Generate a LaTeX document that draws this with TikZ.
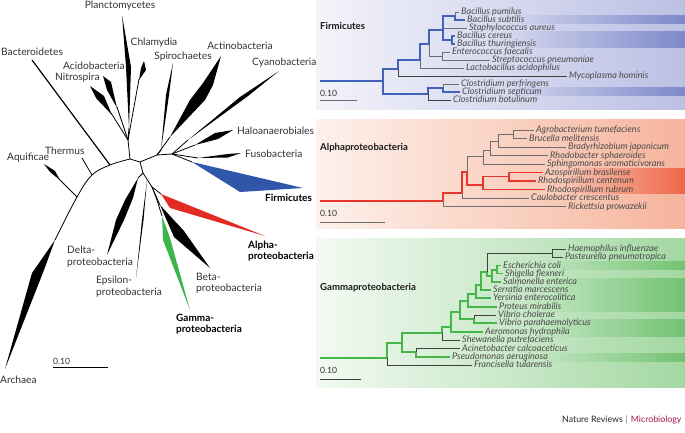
\documentclass[tikz,border=0pt]{standalone}
\usepackage{fontspec}
\setmainfont{Lato}
\definecolor{fbL}{HTML}{F3F3FA}\definecolor{fbR}{HTML}{BCC0E4}\definecolor{fbS}{HTML}{7D89C9}\definecolor{fbLine}{HTML}{4062B8}
\definecolor{alL}{HTML}{FDF1EB}\definecolor{alR}{HTML}{F6B49C}\definecolor{alS}{HTML}{EE6648}\definecolor{alLine}{HTML}{E8362C}
\definecolor{gaL}{HTML}{F3FAF2}\definecolor{gaR}{HTML}{A3D8A2}\definecolor{gaS}{HTML}{72C272}\definecolor{gaLine}{HTML}{45B649}
\definecolor{grLine}{HTML}{6E6E6E}
\definecolor{wBlue}{HTML}{2F56A9}\definecolor{wRed}{HTML}{E42A24}\definecolor{wGreen}{HTML}{3DB54A}
\definecolor{txt}{HTML}{333333}\definecolor{sp}{HTML}{4A4A4A}\definecolor{mb}{HTML}{A3174F}
\newcommand\spleaf[3]{\coordinate (#1) at (#2); \node[spl, anchor=mid west] (#1-t) at ([xshift=2pt]#1) {#3};}
\begin{document}
\begin{tikzpicture}[x=1pt,y=-1pt,
  lab/.style={text=txt, font=\fontsize{10.2}{11.3}\selectfont, inner sep=0pt},
  blab/.style={text=black, font=\fontsize{10}{11.3}\selectfont\bfseries, inner sep=0pt},
  spl/.style={text=sp, font=\fontsize{9.1}{9.5}\selectfont\itshape, inner sep=0pt},
  ttl/.style={font=\fontsize{9.6}{10}\selectfont\bfseries, text=black!90, inner sep=0pt},
  scl/.style={font=\fontsize{8.6}{9}\selectfont, text=txt, inner sep=0pt},
  tl/.style={line width=0.8pt, black},
  bl/.style={line width=1.1pt, fbLine},
  rl/.style={line width=1.1pt, alLine},
  gnl/.style={line width=1.1pt, gaLine},
  gl/.style={line width=0.8pt, grLine},
  dl/.style={line width=0.8pt, black!75}]
\useasboundingbox (0,0) rectangle (685,433);
\fill[white] (0,0) rectangle (685,433);

% ================= LEFT TREE =================
\coordinate (arT) at (55,240); \coordinate (aqN) at (77,197); \coordinate (thN) at (92,175);
\coordinate (baN) at (110,165); \coordinate (plN) at (130,159); \coordinate (cN) at (140,162);
\coordinate (rN1) at (157,155); \coordinate (rN2) at (172,154); \coordinate (clN) at (128,140);
\coordinate (pN1) at (143,173); \coordinate (pN2) at (152,187);
\draw[tl] plot[smooth, tension=0.6] coordinates {(55,240) (77,197) (92,175) (110,165) (130,159)};
\draw[tl] (plN) -- (cN) -- (rN1) -- (rN2);
\draw[tl] (plN) -- (clN);
\draw[tl] (cN) -- (pN1) -- (pN2);
% Archaea
\fill (arT) -- (44,270) -- (5,369) -- (32,273) -- cycle;
% Aquificae
\draw[tl] (aqN) -- (50,170);
\fill (44,164) -- (55,171) -- (60,180) -- (50,172) -- cycle;
% Thermus
\draw[tl] (thN) -- (82,158);
% Bacteroidetes
\draw[line width=1.2pt] (baN) -- (32,60);
% cluster: Planctomycetes, Chlamydia, Acidobacteria, Nitrospira
\draw[tl] (clN) -- (129,128);
\fill (122,15) -- (131,67) -- (129,128) -- (126,67) -- cycle;
\draw[tl] (clN) -- (139,79);
\fill (144,61) -- (146,70) -- (139,80) -- (141,68) -- cycle;
\draw[tl] (clN) -- (117,107);
\fill (103,76) -- (111,82) -- (117,108) -- (107,90) -- cycle;
\draw[tl] (clN) -- (111,113);
\fill (90,86) -- (104,96) -- (112,115) -- (96,98) -- cycle;
% right cluster
\draw[tl] (rN1) -- (161,150);
\fill (173,63) -- (169,95) -- (161,150) -- (166,95) -- cycle;
\draw[tl] (rN1) -- (170,137);
\fill (221,56) -- (213,85) -- (205,100) -- (170,137) -- (190,100) -- (203,83) -- cycle;
\draw[tl] (rN2) -- (188,140);
\fill (279,71) -- (248,96) -- (188,140) -- (240,97) -- cycle;
\draw[tl] (rN2) -- (195,145);
\fill (233,130) -- (218,139) -- (195,145) -- (215,133) -- cycle;
\draw[tl] (rN2) -- (198,158);
\fill (241,153) -- (228,157.5) -- (198,158) -- (228,154) -- cycle;
\draw[tl] (rN2) -- (192,162);
\fill[wBlue] (192,162) -- (303,188) -- (240,192) -- cycle;
% proteobacteria
\draw[tl] (pN1) -- (138,178);
\fill (138,178) -- (133,198) -- (124,220) -- (107,255) -- (116,220) -- (125,200) -- cycle;
\fill (147,180) -- (143.5,220) -- (136,278) -- (142,220) -- cycle;
\draw[tl] (pN2) -- (161,194);
\fill[wRed] (161,194) -- (265,236) -- (187,213) -- (170,208) -- cycle;
\draw[tl] (pN2) -- (160,205);
\fill (160,205) -- (184,231) -- (210,268) -- (174,237) -- cycle;
\draw[tl] (pN2) -- (157,200) -- (162,216);
\fill[wGreen] (162,216) -- (170,238) -- (190,310) -- (163,240) -- cycle;
% labels
\node[lab, anchor=mid] (lPla) at (120,6) {Planctomycetes};
\node[lab, anchor=mid] (lChl) at (154,43) {Chlamydia};
\node[lab, anchor=mid] (lAct) at (240,47) {Actinobacteria};
\node[lab, anchor=mid] (lSpi) at (183,57) {Spirochaetes};
\node[lab, anchor=mid west] (lCya) at (252,63) {Cyanobacteria};
\node[lab, anchor=mid west] (lBac) at (1,53) {Bacteroidetes};
\node[lab, anchor=mid west] (lAci) at (63,67) {Acidobacteria};
\node[lab, anchor=mid west] (lNit) at (55,78) {Nitrospira};
\node[lab, anchor=mid west] (lHal) at (237,132) {Haloanaerobiales};
\node[lab, anchor=mid west] (lFus) at (245,155) {Fusobacteria};
\node[blab, anchor=mid west] (lFir) at (265,199) {Firmicutes};
\node[lab, anchor=mid west] (lThe) at (45,152) {Thermus};
\node[lab, anchor=mid west] (lAqu) at (7,158) {Aquificae};
\node[lab, anchor=north west, align=left] (lDel) at (67,246) {Delta-\\proteobacteria};
\node[lab, anchor=north west, align=left] (lEps) at (96,276) {Epsilon-\\proteobacteria};
\node[lab, anchor=north west, align=left] (lBet) at (196,273) {Beta-\\proteobacteria};
\node[blab, anchor=north west, align=left] (lGam) at (176,314) {Gamma-\\proteobacteria};
\node[blab, anchor=north west, align=left] (lAlp) at (248,241) {Alpha-\\proteobacteria};
\node[lab, anchor=mid west] (lArc) at (0,381) {Archaea};
\node[scl, anchor=mid west] (lSc) at (53,362) {0.10};
\coordinate (lSc1) at (53,367); \coordinate (lSc2) at (108,367);
\draw[line width=0.8pt] (lSc1) -- (lSc2);

% ================= FIRMICUTES =================
\shade[left color=fbL, right color=fbR] (316,0) rectangle (685,110);
\shade[left color=fbR!51!fbL, right color=fbS] (505,15.5) rectangle (685,23.5);
\shade[left color=fbR!51!fbL, right color=fbS] (505,31.5) rectangle (685,47.5);
\shade[left color=fbR!51!fbL, right color=fbS] (505,87.5) rectangle (685,95.5);
\coordinate (fR) at (320,81); \coordinate (fN0) at (383,81); \coordinate (fA) at (398,69);
\coordinate (fC) at (428,94); \coordinate (fB) at (420,60); \coordinate (fD) at (429,44);
\coordinate (fE) at (443,30); \coordinate (fG) at (455,16); \coordinate (fH) at (452,40);
\coordinate (fF) at (442,56); \coordinate (fP) at (443,88);
\spleaf{pum}{459,12}{Bacillus pumilus}
\spleaf{sub}{465,20}{Bacillus subtilis}
\spleaf{sta}{467,28}{Staphylococcus aureus}
\spleaf{cer}{455,36}{Bacillus cereus}
\spleaf{thu}{455,44}{Bacillus thuringiensis}
\spleaf{ent}{450,52}{Enterococcus faecalis}
\spleaf{str}{490,60}{Streptococcus pneumoniae}
\spleaf{lac}{464,68}{Lactobacillus acidophilus}
\spleaf{myc}{567,76}{Mycoplasma hominis}
\spleaf{per}{459,84}{Clostridium perfringens}
\spleaf{sep}{460,92}{Clostridium septicum}
\spleaf{bot}{451,100}{Clostridium botulinum}
\draw[dl] (fA) |- (myc);
\draw[gl] (fB) |- (lac);
\draw[gl] (fD) |- (fF); \draw[gl] (fF) |- (ent); \draw[gl] (fF) |- (str);
\draw[gl] (fE) |- (sta);
\draw[gl] (fG) |- (pum);
\draw[dl] (fC) |- (bot);
\draw[gl] (fP) |- (per);
\draw[bl] (fR) -- (fN0);
\draw[bl] (fN0) |- (fA); \draw[bl] (fN0) |- (fC);
\draw[bl] (fA) |- (fB); \draw[bl] (fB) |- (fD); \draw[bl] (fD) |- (fE);
\draw[bl] (fE) |- (fG); \draw[bl] (fG) |- (sub);
\draw[bl] (fE) |- (fH); \draw[bl] (fH) |- (cer); \draw[bl] (fH) |- (thu);
\draw[bl] (fC) |- (fP); \draw[bl] (fP) |- (sep);
\node[ttl, anchor=mid west] (fT) at (320,27) {Firmicutes};
\node[scl, anchor=mid west] (fS) at (320,94) {0.10};
\coordinate (fS1) at (320,100); \coordinate (fS2) at (357,100);
\draw[gl] (fS1) -- (fS2);

% ================= ALPHA =================
\shade[left color=alL, right color=alR] (316,120) rectangle (685,228);
\shade[left color=alR!66!alL, right color=alS] (560,168) rectangle (685,193.5);
\coordinate (aR) at (320,201); \coordinate (aN) at (443,201); \coordinate (aU) at (462,193);
\coordinate (aV) at (467,172); \coordinate (aX) at (483,185); \coordinate (aY) at (509,176.75);
\coordinate (aW) at (483,156); \coordinate (aZ) at (490,150); \coordinate (aQ) at (498,141);
\coordinate (aT) at (513,134);
\spleaf{agr}{534,130}{Agrobacterium tumefaciens}
\spleaf{bru}{527,138.5}{Brucella melitensis}
\spleaf{bra}{566,147}{Bradyrhizobium japonicum}
\spleaf{rhb}{548,155.5}{Rhodobacter sphaeroides}
\spleaf{sph}{545,164}{Sphingomonas aromaticivorans}
\spleaf{azo}{543,172.5}{Azospirillum brasilense}
\spleaf{cen}{536,181}{Rhodospirillum centenum}
\spleaf{rub}{545,189.5}{Rhodospirillum rubrum}
\spleaf{cau}{529,198}{Caulobacter crescentus}
\spleaf{ric}{566,206.5}{Rickettsia prowazekii}
\draw[gl] (aN) |- (ric); \draw[gl] (aU) |- (cau);
\draw[gl] (aV) |- (aW); \draw[gl] (aW) |- (aZ); \draw[gl] (aW) |- (sph);
\draw[gl] (aZ) |- (aQ); \draw[gl] (aZ) |- (rhb);
\draw[gl] (aQ) |- (aT); \draw[gl] (aQ) |- (bra);
\draw[gl] (aT) |- (agr); \draw[gl] (aT) |- (bru);
\draw[rl] (aR) -- (aN); \draw[rl] (aN) |- (aU); \draw[rl] (aU) |- (aV);
\draw[rl] (aV) |- (aX); \draw[rl] (aX) |- (aY); \draw[rl] (aY) |- (azo);
\draw[rl] (aY) |- (cen); \draw[rl] (aX) |- (rub);
\node[ttl, anchor=mid west] (aTt) at (320,148) {Alphaproteobacteria};
\node[scl, anchor=mid west] (aS) at (320,214) {0.10};
\coordinate (aS1) at (320,222); \coordinate (aS2) at (385,222);
\draw[gl] (aS1) -- (aS2);

% ================= GAMMA =================
\shade[left color=gaL, right color=gaR] (316,238) rectangle (685,387);
\shade[left color=gaR!61!gaL, right color=gaS] (540,261.5) rectangle (685,269.5);
\shade[left color=gaR!61!gaL, right color=gaS] (540,278) rectangle (685,311);
\shade[left color=gaR!61!gaL, right color=gaS] (540,319) rectangle (685,336);
\shade[left color=gaR!61!gaL, right color=gaS] (540,353) rectangle (685,361);
\coordinate (gR) at (320,358); \coordinate (g0) at (387,358); \coordinate (g1) at (402,343);
\coordinate (g3) at (416,352); \coordinate (g2) at (442,333); \coordinate (g4) at (451,327);
\coordinate (g5) at (460,312); \coordinate (g7) at (474,319); \coordinate (g6) at (468,301);
\coordinate (g8) at (476,294); \coordinate (g9) at (481,285); \coordinate (g10) at (487,272);
\coordinate (g12) at (492,276); \coordinate (g13) at (497,270); \coordinate (g11) at (552,253);
\spleaf{hae}{566,249}{Haemophilus influenzae}
\spleaf{pas}{563,257}{Pasteurella pneumotropica}
\spleaf{eco}{501,265.5}{Escherichia coli}
\spleaf{shi}{503,273.5}{Shigella flexneri}
\spleaf{sal}{501,282}{Salmonella enterica}
\spleaf{ser}{491,290}{Serratia marcescens}
\spleaf{yer}{491,298}{Yersinia enterocolitica}
\spleaf{pro}{497,307}{Proteus mirabilis}
\spleaf{vch}{496,315}{Vibrio cholerae}
\spleaf{vpa}{497,323}{Vibrio parahaemolyticus}
\spleaf{aer}{483,332}{Aeromonas hydrophila}
\spleaf{she}{460,340}{Shewanella putrefaciens}
\spleaf{aci}{460,348.5}{Acinetobacter calcoaceticus}
\spleaf{pse}{450,357}{Pseudomonas aeruginosa}
\spleaf{fra}{472,365}{Francisella tularensis}
\draw[dl] (g0) |- (fra); \draw[dl] (g3) |- (aci); \draw[dl] (g2) |- (she);
\draw[dl] (g7) |- (vch); \draw[dl] (g10) |- (g11); \draw[dl] (g11) |- (hae); \draw[dl] (g11) |- (pas);
\draw[gnl] (gR) -- (g0); \draw[gnl] (g0) |- (g1); \draw[gnl] (g1) |- (g2); \draw[gnl] (g1) |- (g3);
\draw[gnl] (g3) |- (pse); \draw[gnl] (g2) |- (g4); \draw[gnl] (g4) |- (aer); \draw[gnl] (g4) |- (g5);
\draw[gnl] (g5) |- (g6); \draw[gnl] (g5) |- (g7); \draw[gnl] (g7) |- (vpa); \draw[gnl] (g6) |- (pro);
\draw[gnl] (g6) |- (g8); \draw[gnl] (g8) |- (yer); \draw[gnl] (g8) |- (g9); \draw[gnl] (g9) |- (ser);
\draw[gnl] (g9) |- (g10); \draw[gnl] (g10) |- (g12); \draw[gnl] (g12) |- (g13); \draw[gnl] (g12) |- (sal);
\draw[gnl] (g13) |- (eco); \draw[gnl] (g13) |- (shi);
\node[ttl, anchor=mid west] (gTt) at (320,288) {Gammaproteobacteria};
\node[scl, anchor=mid west] (gS) at (320,371) {0.10};
\coordinate (gS1) at (320,379); \coordinate (gS2) at (361,379);
\draw[dl] (gS1) -- (gS2);

% ================= CAPTION =================
\node[font=\fontsize{8.8}{9}\selectfont, text=black!85, inner sep=0pt, anchor=mid west] (nr) at (562,420) {Nature Reviews};
\node[font=\fontsize{8.8}{9}\selectfont, text=black!55, inner sep=0pt, anchor=mid west] (nbar) at ([xshift=2.5pt]nr.mid east) {|};
\node[font=\fontsize{8.8}{9}\selectfont, text=mb, inner sep=0pt, anchor=mid west] (nmi) at ([xshift=2.5pt]nbar.mid east) {Microbiology};
\end{tikzpicture}
\end{document}
